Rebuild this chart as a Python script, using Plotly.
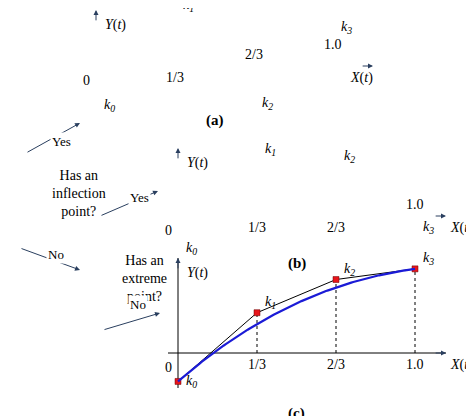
import numpy as np
import plotly.graph_objects as go

# control points of the three cubic Bezier examples (t, Y)
t_ctrl = [0, 1/3, 2/3, 1.0]
y_a = [-0.165, 0.21, -0.16, 0.118]
y_b = [-0.136, 0.237, 0.208, -0.05]
y_c = [-0.12, 0.17, 0.31, 0.355]
tick_labels = ["1/3", "2/3", "1.0"]
point_names = ["k<sub>0</sub>", "k<sub>1</sub>", "k<sub>2</sub>", "k<sub>3</sub>"]

W, H = 474, 416
U = 237.0
# panel origin in pixels
panels = [
    dict(name="a", ys=y_a, ox=88, oy=58, xl=70, xr=365, yb=100, yt=2),
    dict(name="b", ys=y_b, ox=170, oy=208, xl=160, xr=438, yb=245, yt=140),
    dict(name="c", ys=y_c, ox=170, oy=345, xl=160, xr=438, yb=380, yt=250),
]
FONT = "Liberation Serif"

fig = go.Figure()
ann = []


def bez(p, s):
    return ((1 - s) ** 3 * p[0] + 3 * (1 - s) ** 2 * s * p[1]
            + 3 * (1 - s) * s ** 2 * p[2] + s ** 3 * p[3])


s = np.linspace(0, 1, 120)
for i, p in enumerate(panels):
    xa = "x" if i == 0 else f"x{i+1}"
    ya = "y" if i == 0 else f"y{i+1}"
    ox, oy = p["ox"], p["oy"]
    px = lambda v: (v - ox) / U
    py = lambda v: (oy - v) / U
    ys = p["ys"]
    # axes
    fig.add_trace(go.Scatter(x=[px(p["xl"]), px(p["xr"])], y=[0, 0], mode="lines",
                             line=dict(color="black", width=1), xaxis=xa, yaxis=ya))
    fig.add_trace(go.Scatter(x=[0, 0], y=[py(p["yb"]), py(p["yt"])], mode="lines",
                             line=dict(color="black", width=1), xaxis=xa, yaxis=ya))
    for (ax_, ay_, x_, y_) in [(px(p["xr"]) - 0.05, 0, px(p["xr"]), 0),
                               (0, py(p["yt"]) - 0.05, 0, py(p["yt"]))]:
        ann.append(dict(x=x_, y=y_, ax=ax_, ay=ay_, xref=xa, yref=ya, axref=xa, ayref=ya,
                        showarrow=True, arrowhead=2, arrowsize=1, arrowwidth=1, text=""))
    # dotted drops
    for t, v in zip(t_ctrl[1:], ys[1:]):
        fig.add_trace(go.Scatter(x=[t, t], y=[0, v], mode="lines",
                                 line=dict(color="black", width=1, dash="dot"),
                                 xaxis=xa, yaxis=ya))
    # control polygon
    fig.add_trace(go.Scatter(x=t_ctrl, y=ys, mode="lines+markers",
                             line=dict(color="black", width=1),
                             marker=dict(symbol="square", size=6, color="#e8151b",
                                         line=dict(color="#600", width=0.5)),
                             xaxis=xa, yaxis=ya))
    # curve
    fig.add_trace(go.Scatter(x=bez(t_ctrl, s), y=bez(ys, s), mode="lines",
                             line=dict(color="#1b1bd6", width=2.2), xaxis=xa, yaxis=ya))
    # labels
    ann.append(dict(x=-0.015, y=-0.02, text="0", xref=xa, yref=ya, showarrow=False,
                    xanchor="right", yanchor="top", font=dict(size=14)))
    for k, (t, lab) in enumerate(zip(t_ctrl[1:], tick_labels)):
        below = not (p["name"] == "a" and k == 1) and not (p["name"] == "b" and k == 2)
        yy = -0.01 if below else 0.01
        if p["name"] == "a" and k == 2:
            yy = 0.05
            below = False
        ann.append(dict(x=t, y=yy, text=lab, xref=xa, yref=ya, showarrow=False,
                        yanchor="top" if below else "bottom", font=dict(size=14)))
    ann.append(dict(x=px(p["xr"]) + 0.01, y=-0.01, text="<i>X</i>(<i>t</i>)", xref=xa,
                    yref=ya, showarrow=False, xanchor="left" if p["name"] != "a" else "right",
                    yanchor="top", font=dict(size=14)))
    ann.append(dict(x=0.03, y=py(p["yt"]) - 0.02, text="<i>Y</i>(<i>t</i>)", xref=xa,
                    yref=ya, showarrow=False, xanchor="left", yanchor="top",
                    font=dict(size=14)))
    for t, v, nm in zip(t_ctrl, ys, point_names):
        ann.append(dict(x=t + 0.025, y=v, text="<i>" + nm + "</i>", xref=xa, yref=ya,
                        showarrow=False, xanchor="left",
                        yanchor="bottom" if v > 0 else "middle", font=dict(size=14)))
    ann.append(dict(x=0.5, y=py({"a": 112, "b": 255, "c": 405}[p["name"]]),
                    text="<b>(" + p["name"] + ")</b>", xref=xa, yref=ya,
                    showarrow=False, font=dict(size=15)))
    fig.layout[("xaxis" if i == 0 else f"xaxis{i+1}")] = dict(
        range=[px(0), px(W)], domain=[0, 1], visible=False, anchor=ya)
    fig.layout[("yaxis" if i == 0 else f"yaxis{i+1}")] = dict(
        range=[py(H), py(0)], domain=[0, 1], visible=False, anchor=xa)


def P(x, y):
    return x / W, 1 - y / H


texts = [
    (42, 185, "Has an<br>inflection<br>point?"),
    (112, 298, "Has an<br>extreme<br>point?"),
]
for x, y, tx in texts:
    xx, yy = P(x, y)
    ann.append(dict(x=xx, y=yy, xref="paper", yref="paper", text=tx, showarrow=False,
                    font=dict(size=14)))
arrows = [
    (18, 145, 72, 115, "Yes", 42, 124),
    (92, 208, 150, 183, "Yes", 120, 190),
    (12, 240, 72, 262, "No", 38, 246),
    (95, 322, 152, 305, "No", 120, 306),
]
for x0, y0, x1, y1, lab, lx, ly in arrows:
    a1, b1 = P(x1, y1)
    ann.append(dict(x=a1, y=b1, ax=x0 - x1, ay=y0 - y1, xref="paper", yref="paper",
                    showarrow=True, arrowhead=2, arrowwidth=1, text=""))
    lxx, lyy = P(lx, ly)
    ann.append(dict(x=lxx, y=lyy, xref="paper", yref="paper", text=lab, showarrow=False,
                    bgcolor="white", font=dict(size=13)))
cx, cy = P(10, 415)
ann.append(dict(x=cx, y=cy, xref="paper", yref="paper", xanchor="left", yanchor="middle",
                text="<b>2    Bézier Classification</b>    <i>We classify Bézier curves</i>",
                showarrow=False, font=dict(size=14)))

fig.update_layout(width=W, height=H, margin=dict(l=0, r=0, t=0, b=0),
                  plot_bgcolor="white", paper_bgcolor="white", showlegend=False,
                  annotations=ann, font=dict(family=FONT, color="black"))
fig.write_html("out.html")
